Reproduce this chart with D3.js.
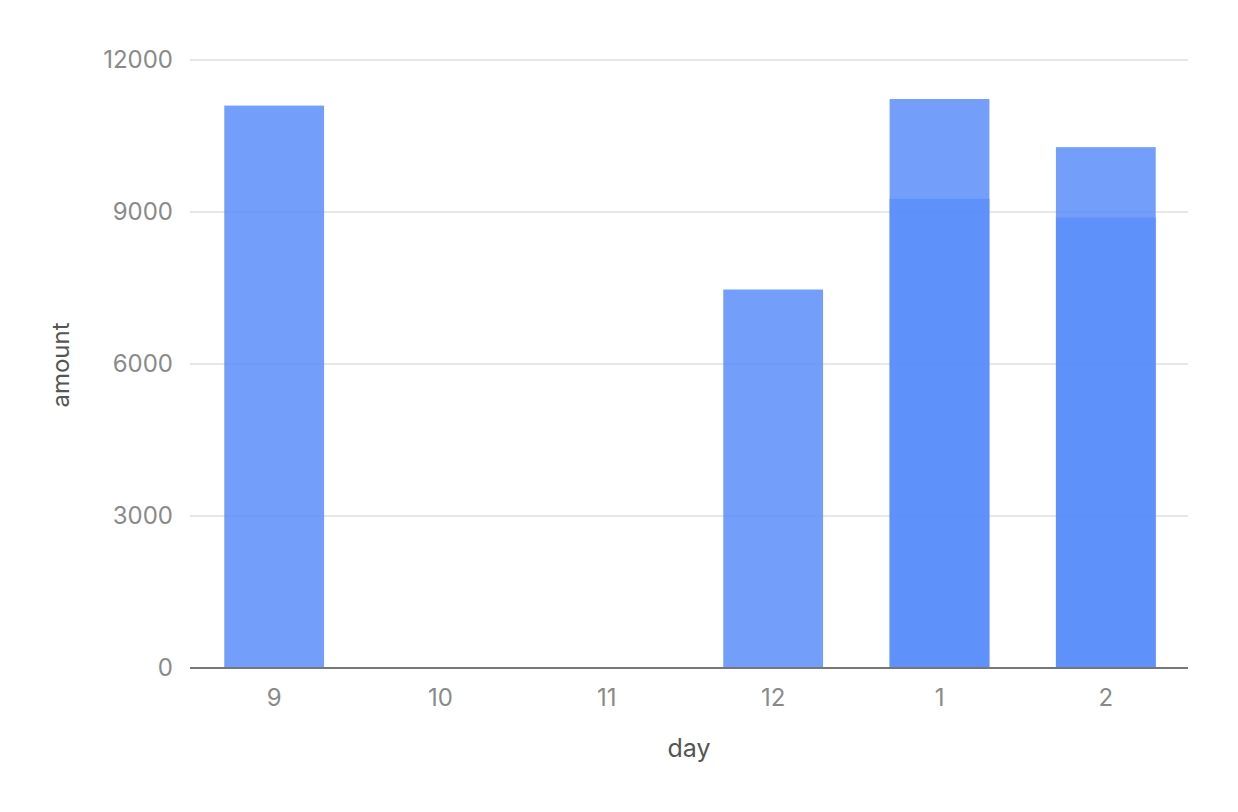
<!DOCTYPE html>
<html>
<head>
<meta charset="utf-8">
<script src="https://cdn.jsdelivr.net/npm/d3@7"></script>
<style>
  html, body { margin: 0; padding: 0; background: #fff; }
  svg { display: block; }
  text { font-family: Inter, "Helvetica Neue", Arial, sans-serif; }
</style>
</head>
<body>
<svg id="chart" width="1238" height="812"></svg>
<script>
const categories = ["9", "10", "11", "12", "1", "2"];
const seriesA = [11100, 0, 0, 7470, 11230, 10280];
const seriesB = [null, null, null, null, 9260, 8890];
const yTicks = [0, 3000, 6000, 9000, 12000];

const svg = d3.select("#chart");
const margin = { left: 190, right: 50, top: 60, bottom: 144 };
const W = 1238, H = 812;

const x = d3.scaleBand().domain(categories)
  .range([margin.left + 1, W - margin.right + 1])
  .paddingInner(0.4).paddingOuter(0.2);
const y = d3.scaleLinear().domain([0, 12000]).range([H - margin.bottom, margin.top]);

// gridlines
svg.append("g").selectAll("line").data(yTicks.filter(d => d !== 0)).join("line")
  .attr("x1", margin.left).attr("x2", W - margin.right)
  .attr("y1", d => y(d)).attr("y2", d => y(d))
  .attr("stroke", "#cfcfcf").attr("stroke-width", 1.2);

const fill = "rgb(90,142,249)";
const op = 0.85;

function drawSeries(vals) {
  svg.append("g").selectAll("rect")
    .data(categories.map((c, i) => ({ c, v: vals[i] })).filter(d => d.v != null && d.v > 0))
    .join("rect")
    .attr("x", d => x(d.c)).attr("width", x.bandwidth())
    .attr("y", d => y(d.v)).attr("height", d => y(0) - y(d.v))
    .attr("fill", fill).attr("fill-opacity", op);
}
drawSeries(seriesA);
drawSeries(seriesB);

// baseline
svg.append("line")
  .attr("x1", margin.left).attr("x2", W - margin.right)
  .attr("y1", y(0)).attr("y2", y(0))
  .attr("stroke", "#777").attr("stroke-width", 2);

// y axis
const yAxis = d3.axisLeft(y).tickValues(yTicks).tickFormat(d3.format("d")).tickSize(0).tickPadding(17);
const gy = svg.append("g").attr("transform", `translate(${margin.left},0)`).call(yAxis);
gy.select(".domain").remove();
gy.selectAll("text").attr("fill", "#8a8a8a").attr("font-size", 24).style("font-family", "Inter, sans-serif");

// x axis
const xAxis = d3.axisBottom(x).tickSize(0).tickPadding(21);
const gx = svg.append("g").attr("transform", `translate(0,${y(0)})`).call(xAxis);
gx.select(".domain").remove();
gx.selectAll("text").attr("fill", "#8a8a8a").attr("font-size", 24).style("font-family", "Inter, sans-serif");

// titles
svg.append("text").attr("x", (margin.left + W - margin.right) / 2).attr("y", 757)
  .attr("text-anchor", "middle").attr("fill", "#555").attr("font-size", 25).text("day");
svg.append("text").attr("transform", "translate(69,365) rotate(-90)")
  .attr("text-anchor", "middle").attr("fill", "#555").attr("font-size", 24).text("amount");
</script>
</body>
</html>
